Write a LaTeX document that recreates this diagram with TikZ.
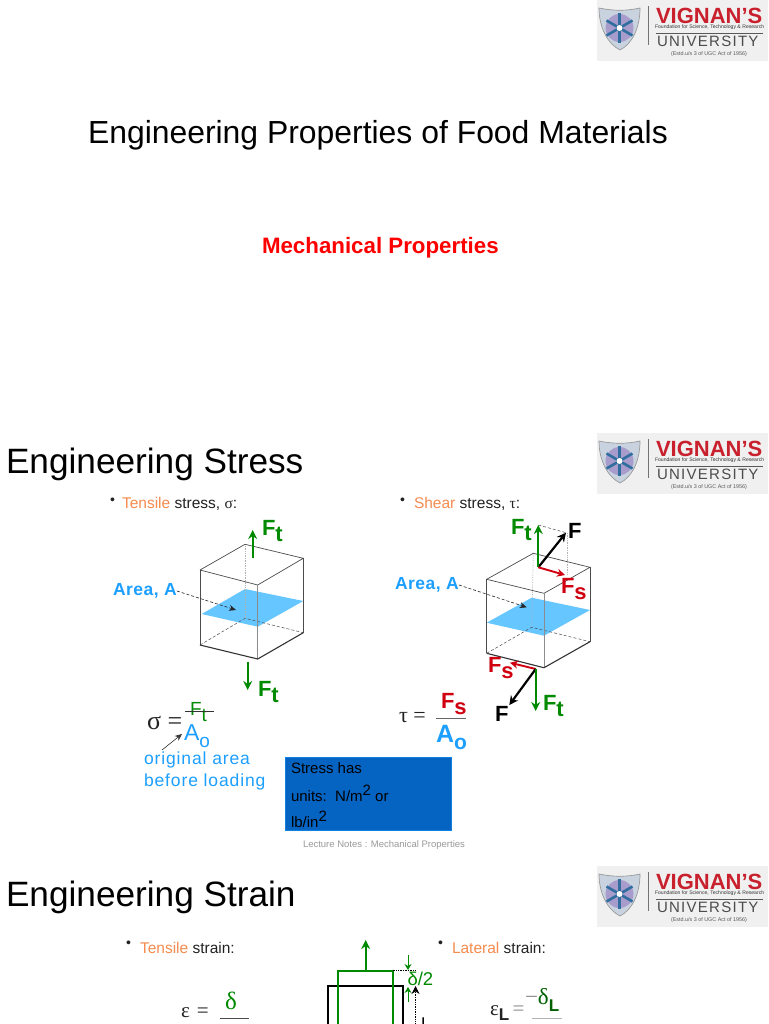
\documentclass[tikz,border=0pt]{standalone}
\usepackage{fontspec}
\setmainfont{Liberation Sans}
\newfontfamily\serifgr{Liberation Serif}
\usetikzlibrary{arrows.meta}
\definecolor{orng}{HTML}{F58B4E}
\definecolor{grn}{HTML}{008A00}
\definecolor{rd}{HTML}{D00010}
\definecolor{blu}{HTML}{1C9FFF}
\definecolor{plane}{HTML}{66C6FF}
\definecolor{boxb}{HTML}{0563C1}
\definecolor{txt}{HTML}{222222}
\definecolor{vred}{HTML}{C8202C}
\definecolor{spoke}{HTML}{2F6E9E}
\definecolor{wedge}{HTML}{A79CCB}
\definecolor{shieldc}{HTML}{C9D3E0}
\newcommand{\fs}[1]{\fontsize{#1pt}{#1pt}\selectfont}
\newcommand{\lowr}[1]{\raisebox{-0.28em}{#1}}
\newcommand{\uppr}[1]{\raisebox{0.42em}{\fs{15}#1}}
\tikzset{
 lbl/.style={anchor=west,inner sep=0pt,outer sep=0pt,text=txt},
 edge/.style={draw=black!70,line width=0.7pt},
 heavyedge/.style={draw=black!80,line width=1.1pt},
 hidden/.style={draw=black!70,line width=0.5pt,densely dashed},
 faint/.style={draw=black!30,line width=0.7pt,densely dotted},
 arrowg/.style={draw=grn,line width=1.9pt,-{Stealth[length=9pt,width=9pt]}},
 arrowr/.style={draw=rd,line width=1.9pt,-{Stealth[length=8pt,width=8pt]}},
 arrowk/.style={draw=black,line width=2.2pt,-{Stealth[length=9pt,width=9pt]}},
 pointer/.style={draw=black!85,line width=0.6pt,densely dashed,-{Stealth[length=7pt,width=6pt]}},
 pics/logo/.style={code={
  \fill[black!6] (597,0) rectangle (768,61);
  \fill[shieldc,draw=black!40,line width=0.7pt] (599,8) .. controls (613,11) and (627,11) .. (640,8) .. controls (640,28) and (632,44) .. (620,50) .. controls (608,44) and (599,28) .. (599,8) -- cycle;
  \fill[wedge] (619.5,28) circle (14pt);
  \foreach \a in {30,90,150,210,270,330}{\draw[draw=spoke,line width=2.6pt] (619.5,28) -- ++(\a:15pt);}
  \fill[white] (619.5,28) circle (3pt);
  \draw[black!55,line width=0.6pt] (648,6) -- (648,45);
  \draw[black!65,line width=0.6pt] (656,33) -- (763,33);
  \node[inner sep=0pt,outer sep=0pt,anchor=south west,text height=16pt,text depth=0pt,text=vred,font=\bfseries\fs{22}] (-v) at (656,23.5) {VIGNAN'S};
  \node[lbl,text=black!80,font=\fs{5.1}] (-f) at (655,27.5) {Foundation for Science, Technology \& Research};
  \node[lbl,text=black!70,font=\addfontfeatures{LetterSpace=8.5}\fs{15}] (-u) at (657,41.5) {UNIVERSITY};
  \node[lbl,text=black!65,font=\fs{5.4}] (-e) at (671,54) {(Estd.u/s 3 of UGC Act of 1956)};
 }}
}
\begin{document}
\begin{tikzpicture}[x=1pt,y=-1pt]
\useasboundingbox (0,0) rectangle (768,1024);
\fill[white] (0,0) rectangle (768,1024);
\begin{scope}
\clip (0,0) rectangle (768,1024);
\pic (l1) at (0,0) {logo};
\pic (l2) at (0,433) {logo};
\pic (l3) at (0,866) {logo};

\node[lbl,text=black,font=\fs{31.9}] (title) at (88,135) {Engineering Properties of Food Materials};
\node[lbl,text=red,font=\bfseries\fs{22.3}] (mech) at (262,248) {Mechanical Properties};
\node[lbl,text=black,font=\fs{35.2}] (stress) at (6,464) {Engineering Stress};
\node[lbl,text=black,font=\fs{35.2}] (strain) at (6,897) {Engineering Strain};

% bullets stress
\node[lbl,font=\fs{14}] (b1) at (110,501) {•};
\node[lbl,font=\fs{15.5}] (tens) at (122,503.5) {\textcolor{orng}{Tensile} stress, {\serifgr σ}:};
\node[lbl,font=\fs{14}] (b2) at (400,501) {•};
\node[lbl,font=\fs{15.5}] (shear) at (414,503.5) {\textcolor{orng}{Shear} stress, {\serifgr τ}:};

% cube 1
\coordinate (a) at (200,570); \coordinate (b) at (257.7,585); \coordinate (c) at (303.3,558.3); \coordinate (d) at (245,544.3);
\coordinate (e) at (200,645); \coordinate (f) at (257.7,659); \coordinate (g) at (303.3,632.7); \coordinate (h) at (245,618.3);
\coordinate (p1) at (201.7,614); \coordinate (p2) at (245,589); \coordinate (p3) at (303.3,601); \coordinate (p4) at (257.7,626.7);
\fill[plane] (p1) -- (p2) -- (p3) -- (p4) -- cycle;
\draw[faint] (d) -- (h);
\draw[hidden] (e) -- (h) -- (g);
\draw[edge] (a) -- (b) -- (c) -- (d) -- (a);
\draw[edge] (a) -- (e);
\draw[edge,draw=black!45] (b) -- (f);
\draw[edge] (c) -- (g);
\draw[heavyedge] (e) -- (f) -- (g);
\coordinate (t1s) at (252.7,558.3); \coordinate (t1e) at (252.7,530);
\coordinate (t2s) at (247.7,661.7); \coordinate (t2e) at (247.7,690);
\draw[arrowg] (t1s) -- (t1e);
\draw[arrowg] (t2s) -- (t2e);
\node[lbl,text=grn,font=\bfseries\fs{22}] (ft1) at (262,531) {F\lowr{t}};
\node[lbl,text=grn,font=\bfseries\fs{22}] (ft2) at (258,692) {F\lowr{t}};
\node[lbl,text=blu,font=\bfseries\addfontfeatures{LetterSpace=3}\fs{17.5}] (area1) at (113,591) {Area, A};
\coordinate (a1e) at (236,610);
\draw[pointer] (area1.east) -- (a1e);

% cube 2
\coordinate (A) at (486.7,579.3); \coordinate (B) at (544,593.3); \coordinate (C) at (590,567.3); \coordinate (D) at (533.3,553.3);
\coordinate (E) at (486.7,653.3); \coordinate (G) at (590,641.7); \coordinate (F) at (544,667.7); \coordinate (H) at (531.7,627.3);
\coordinate (q1) at (486.7,622.7); \coordinate (q2) at (531.7,597.7); \coordinate (q3) at (590,610); \coordinate (q4) at (544,635.7);
\fill[plane] (q1) -- (q2) -- (q3) -- (q4) -- cycle;
\draw[faint] (D) -- (H);
\draw[hidden] (E) -- (H) -- (G);
\draw[edge] (A) -- (B) -- (C) -- (D) -- (A);
\draw[edge] (A) -- (E);
\draw[edge,draw=black!45] (B) -- (F);
\draw[edge] (C) -- (G);
\draw[heavyedge] (E) -- (F) -- (G);
\coordinate (s) at (538.3,567.3); \coordinate (st) at (538.3,525); \coordinate (sf) at (566,532.7); \coordinate (ss) at (565,575);
\draw[hidden] (st) -- (sf);
\draw[faint] (567,533) -- (567,574);
\draw[arrowk] (s) -- (sf);
\draw[arrowg] (s) -- (st);
\draw[arrowr] (s) -- (ss);
\coordinate (u) at (535.7,669); \coordinate (ut) at (535.7,711); \coordinate (uf) at (509.3,705); \coordinate (us) at (510,662.7);
\draw[arrowr] (u) -- (us);
\draw[arrowk] (u) -- (uf);
\draw[arrowg] (u) -- (ut);
\node[lbl,text=grn,font=\bfseries\fs{22}] (ft3) at (511,530) {F\lowr{t}};
\node[lbl,text=black,font=\bfseries\fs{22}] (f3) at (568,531) {F};
\node[lbl,text=rd,font=\bfseries\fs{22}] (fs3) at (561,589) {F\lowr{s}};
\node[lbl,text=rd,font=\bfseries\fs{22}] (fs4) at (488,668) {F\lowr{s}};
\node[lbl,text=black,font=\bfseries\fs{22}] (f4) at (495,714) {F};
\node[lbl,text=grn,font=\bfseries\fs{22}] (ft4) at (543,706) {F\lowr{t}};
\node[lbl,text=blu,font=\bfseries\addfontfeatures{LetterSpace=3}\fs{17.5}] (area2) at (395,585) {Area, A};
\coordinate (a2e) at (526.7,607.3);
\draw[pointer] (area2.east) -- (a2e);

% sigma formula
\node[lbl,text=txt,font=\serifgr\fs{26}] (sig) at (147,723) {σ =};
\node[lbl,text=grn,font=\fs{19}] (ftf) at (190,712) {F\lowr{t}};
\coordinate (l1a) at (185,711.5); \coordinate (l1b) at (214,711.5);
\draw[black!80,line width=0.7pt] (l1a) -- (l1b);
\node[lbl,text=blu,font=\fs{23}] (ao) at (184,736) {A\lowr{\fs{19}o}};
\coordinate (o1) at (162,750); \coordinate (o2) at (182,734);
\draw[black!80,line width=0.6pt,-{Stealth[length=7pt,width=6pt]}] (o1) -- (o2);
\node[lbl,text=blu,font=\addfontfeatures{LetterSpace=5}\fs{17.5}] (or1) at (144,759.5) {original area};
\node[lbl,text=blu,font=\addfontfeatures{LetterSpace=5}\fs{17.5}] (or2) at (144,781.5) {before loading};

% tau formula
\node[lbl,text=txt,font=\serifgr\fs{22}] (tau) at (399,718) {τ =};
\node[lbl,text=rd,font=\bfseries\fs{22}] (fsf) at (441,704) {F\lowr{s}};
\coordinate (l2a) at (436,718.5); \coordinate (l2b) at (466,718.5);
\draw[black!60,line width=0.7pt] (l2a) -- (l2b);
\node[lbl,text=blu,font=\bfseries\fs{25}] (aof) at (436,737) {A\lowr{\fs{21}o}};

% blue box
\node[anchor=north west,inner sep=0pt,minimum width=166pt,minimum height=73pt,fill=boxb,draw=blu!50!boxb,line width=0.4pt] (unitbox) at (285,757) {};
\node[lbl,text=black,font=\fs{15}] (u1) at (291,768.5) {Stress has};
\node[lbl,text=black,font=\fs{15}] (u2) at (291,793) {units:\ \ N/m\uppr{2} or};
\node[lbl,text=black,font=\fs{15}] (u3) at (291,819) {lb/in\uppr{2}};
\node[lbl,text=black!40,font=\fs{9.5}] (foot) at (303,845.5) {Lecture Notes : Mechanical Properties};

% strain
\node[lbl,font=\fs{14}] (b3) at (126,944) {•};
\node[lbl,font=\fs{15.5}] (ts) at (140,947.5) {\textcolor{orng}{Tensile} strain:};
\node[lbl,font=\fs{14}] (b4) at (438,944) {•};
\node[lbl,font=\fs{15.5}] (ls) at (452,947.5) {\textcolor{orng}{Lateral} strain:};

\node[lbl,text=txt,font=\serifgr\fs{21}] (eps) at (181,1013) {ε\,\,=};
\node[lbl,text=grn,font=\serifgr\fs{25}] (del) at (225,1001) {δ};
\coordinate (l3a) at (220,1018); \coordinate (l3b) at (249,1018);
\draw[black!70,line width=0.7pt] (l3a) -- (l3b);

\node[lbl,text=txt,font=\serifgr\fs{21}] (epsl) at (490,1013) {ε\lowr{\bfseries\fontspec{Liberation Sans}\fs{17}L}\,\textcolor{black!45}{=}};
\node[lbl,text=grn!70!black,font=\serifgr\fs{23}] (dell) at (525,1000) {\textcolor{black!45}{−}δ\lowr{\bfseries\fontspec{Liberation Sans}\fs{17}L}};
\coordinate (l4a) at (532,1018); \coordinate (l4b) at (562,1018);
\draw[black!30,line width=0.9pt] (l4a) -- (l4b);

% bars
\coordinate (k1) at (328.3,1030); \coordinate (k2) at (328.3,985.7); \coordinate (k3) at (403.3,985.7); \coordinate (k4) at (403.3,1030);
\draw[black,line width=2.2pt] (k1) -- (k2) -- (k3) -- (k4);
\coordinate (g1) at (338.3,1030); \coordinate (g2) at (338.3,970.7); \coordinate (g3) at (392.7,970.7); \coordinate (g4) at (392.7,1030);
\draw[grn,line width=2.2pt] (g1) -- (g2) -- (g3) -- (g4);
\coordinate (gm) at (365.7,970.7); \coordinate (gt) at (365.7,940);
\draw[arrowg] (gm) -- (gt);
\coordinate (dd) at (415,970.7);
\draw[black,line width=0.7pt,densely dotted] (g3) -- (dd);
\coordinate (n1) at (408,955); \coordinate (n2) at (408,970);
\draw[grn,line width=1pt,-{Stealth[length=6pt,width=7pt]}] (n1) -- (n2);
\coordinate (n3) at (408,1002); \coordinate (n4) at (408,987);
\draw[grn,line width=1pt,-{Stealth[length=6pt,width=7pt]}] (n3) -- (n4);
\node[lbl,text=grn,font=\fs{18.5}] (d2) at (407.5,979) {δ/2};
\coordinate (v1) at (415.5,1030); \coordinate (v2) at (415.5,986);
\draw[black,line width=0.7pt,densely dotted,-{Stealth[length=8pt,width=8pt]}] (v1) -- (v2);
\node[lbl,text=black,font=\fs{17}] (ll) at (421,1024) {L};
\end{scope}
\end{tikzpicture}
\end{document}
